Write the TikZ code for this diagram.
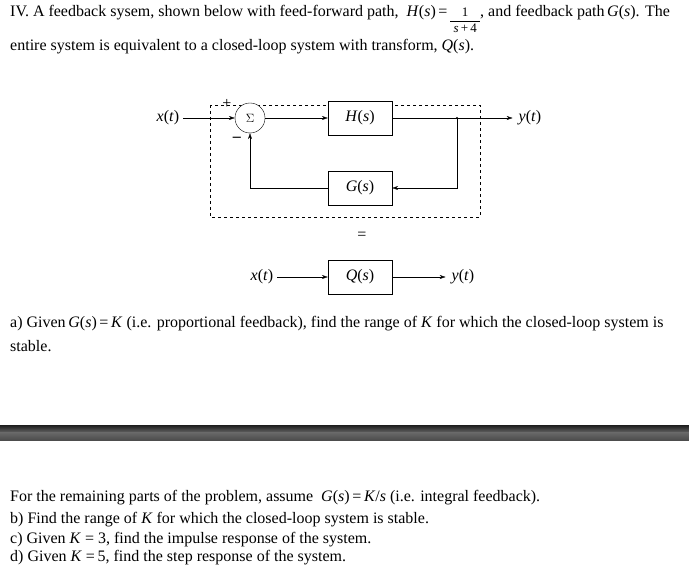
\documentclass[tikz,border=0pt]{standalone}
\usepackage{fontspec}
\setmainfont{Liberation Serif}
\usetikzlibrary{arrows.meta}
\newcommand{\mi}[1]{\textit{#1}}
\newcommand{\mfrac}{\raisebox{-1.1ex}{\fontsize{13}{13}\selectfont\begin{tabular}{@{}c@{}}1\\[-5pt]\rule[3pt]{30pt}{0.5pt}\\[-5pt]\mi{s}\,+\,4\end{tabular}}}
\begin{document}
\begin{tikzpicture}[x=1pt,y=-1pt,font=\fontsize{16}{19}\selectfont,
  blk/.style={draw,minimum width=64pt,minimum height=34pt,inner sep=0pt},
  txt/.style={anchor=west,inner sep=0pt},
  lab/.style={inner sep=0pt},
  sig/.style={-{Stealth[length=6pt,width=4pt]},thin}]
\useasboundingbox (0,0) rectangle (689,572);
\node[txt] (l1) at (10,21) {IV. A feedback sysem, shown below with feed-forward path, \ \mi{H}(\mi{s})\,=\,\mfrac, and feedback path\,\mi{G}(\mi{s}). The};
\node[txt] (l2) at (10,47) {entire system is equivalent to a closed-loop system with transform, \mi{Q}(\mi{s}).};
\draw[dashed,thin] (210,105) rectangle (480,217);
\node[draw,circle,minimum size=30pt,inner sep=0pt,fill=white] (sum) at (250,118) {\fontsize{12}{12}\selectfont$\Sigma$};
\node[blk,fill=white] (H) at (360,118) {\mi{H}(\mi{s})};
\node[blk,fill=white] (G) at (360,188) {\mi{G}(\mi{s})};
\node[lab] (x1) at (168,118) {\mi{x}(\mi{t})};
\node[lab] (y1) at (530,118) {\mi{y}(\mi{t})};
\coordinate (j) at (457,118);
\fill (j) circle (1.2pt);
\draw[sig] (x1.east)+(4,0) -- (sum.west);
\draw[sig] (sum) -- (H);
\draw (H.east) -- (j);
\draw[sig] (j) -- ([xshift=-6pt]y1.west);
\draw[sig] (j) |- (G.east);
\draw[sig] (G.west) -| (sum.south);
\node[lab] (plus) at (227,104) {+};
\node[lab] (minus) at (237,139) {\textbf{–}};
\node[lab] (eq) at (362,236) {=};
\node[blk] (Q) at (360,277) {\mi{Q}(\mi{s})};
\node[lab] (x2) at (262,277) {\mi{x}(\mi{t})};
\node[lab] (y2) at (463,277) {\mi{y}(\mi{t})};
\draw[sig] ([xshift=4pt]x2.east) -- (Q.west);
\draw[sig] (Q.east) -- ([xshift=-6pt]y2.west);
\node[txt] (a1) at (10,324) {a) Given\,\mi{G}(\mi{s})\,=\,\mi{K} (i.e. proportional feedback), find the range of \mi{K} for which the closed-loop system is};
\node[txt] (a2) at (10,346) {stable.};
\fill[top color=black!85,bottom color=black!60] (0,426) rectangle (689,433);
\fill[top color=black!60,bottom color=black!70] (0,433) rectangle (689,440);
\node[txt] (b0) at (10,498) {For the remaining parts of the problem, assume \ \mi{G}(\mi{s})\,=\,\mi{K}/\mi{s} (i.e. integral feedback).};
\node[txt] (b1) at (10,520) {b) Find the range of \mi{K} for which the closed-loop system is stable.};
\node[txt] (c1) at (10,540) {c) Given \mi{K} = 3, find the impulse response of the system.};
\node[txt] (d1) at (10,558) {d) Given \mi{K} =\,5, find the step response of the system.};
\end{tikzpicture}
\end{document}
